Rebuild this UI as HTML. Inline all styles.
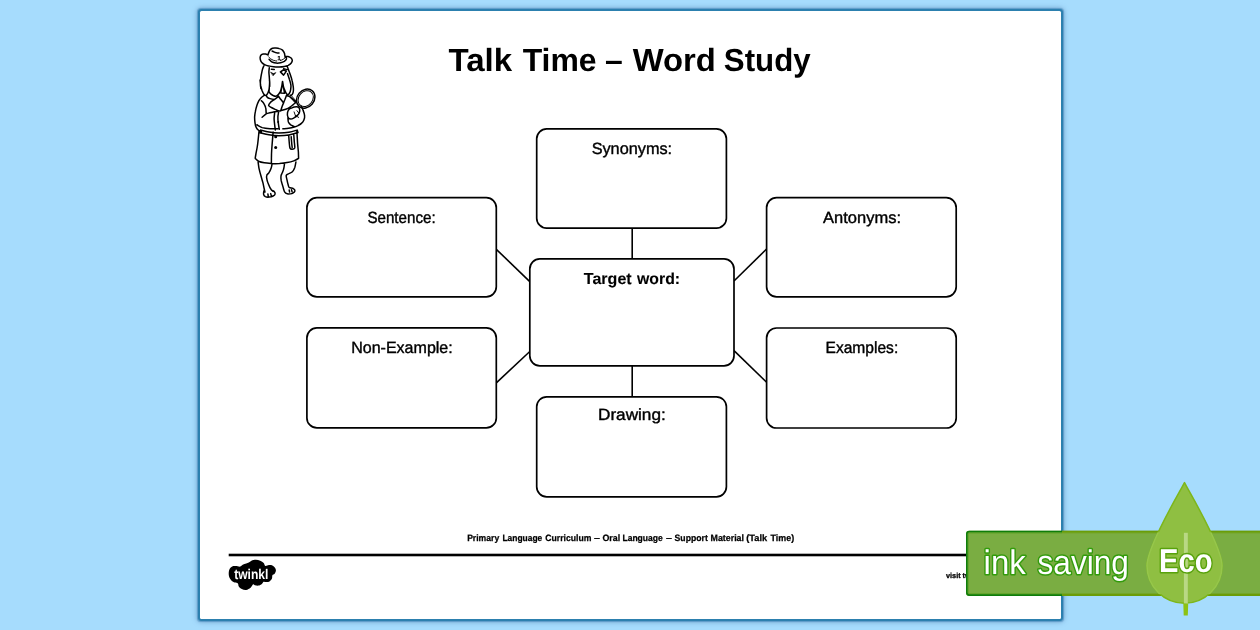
<!DOCTYPE html>
<html lang="en">
<head>
<meta charset="utf-8">
<title>Talk Time – Word Study</title>
<style>
*{box-sizing:border-box;margin:0;padding:0}
html,body{width:1260px;height:630px;overflow:hidden;background:#a6dcfd}
#stage{position:relative;width:1260px;height:630px;overflow:hidden;background:#a6dcfd}
#sheet{position:absolute;left:200px;top:11px;width:861px;height:608px;background:#fff;border-radius:1.5px;box-shadow:0 0 0 2px #2c80af,0 0 1px 2.5px rgba(60,130,180,.55),0 0 5px 3px rgba(80,125,175,.6)}
#art{position:absolute;left:0;top:0;width:1260px;height:630px;font-family:"Liberation Sans", sans-serif;will-change:transform;text-rendering:geometricPrecision}
</style>
</head>
<body>
<div id="stage">
<div id="sheet"></div>
<svg id="art" width="1260" height="630" viewBox="0 0 1260 630">
<defs>
<clipPath id="bL"><rect x="960" y="525" width="102" height="80"/></clipPath>
<clipPath id="bR"><rect x="1062" y="525" width="200" height="80"/></clipPath>
<clipPath id="inb"><rect x="960" y="532.6" width="310" height="61.4"/></clipPath>
</defs>
<g id="title"><text y="71.20" font-weight="bold" font-size="32" fill="#000"><tspan x="448.44" textLength="63.72" lengthAdjust="spacingAndGlyphs">Talk</tspan> <tspan x="522.65" textLength="73.96" lengthAdjust="spacingAndGlyphs">Time</tspan> <tspan x="605.00" textLength="17.74" lengthAdjust="spacingAndGlyphs">–</tspan> <tspan x="632.70" textLength="83.12" lengthAdjust="spacingAndGlyphs">Word</tspan> <tspan x="723.82" textLength="86.81" lengthAdjust="spacingAndGlyphs">Study</tspan></text></g>
<g id="dog" fill="none" stroke="#000" stroke-width="1.5" stroke-linecap="round" stroke-linejoin="round">
<g transform="rotate(-50 305.7 98.6)"><ellipse cx="305.7" cy="98.6" rx="10.2" ry="8.5"/><ellipse cx="305.7" cy="98.6" rx="8.6" ry="6.9" stroke-width="1"/></g>
<path d="M268.0 55.0C267.6 54.9 266.5 54.3 265.7 54.1C264.9 54.0 264.0 53.8 263.2 53.9C262.4 54.1 261.6 54.4 261.1 55.0C260.6 55.6 260.2 56.6 260.1 57.5C260.1 58.4 260.2 59.5 260.6 60.4C260.9 61.3 261.5 62.1 262.1 62.9C262.8 63.6 263.6 64.1 264.6 64.6C265.7 65.2 267.1 65.6 268.6 65.9C270.1 66.3 271.8 66.6 273.6 66.8C275.4 67.0 277.5 67.1 279.3 67.0C281.1 66.9 282.8 66.7 284.3 66.4C285.8 66.2 287.1 65.9 288.2 65.4C289.3 64.8 290.4 64.0 291.1 63.2C291.8 62.4 292.2 61.5 292.3 60.7C292.4 59.9 292.0 59.2 291.6 58.6C291.1 58.0 290.4 57.5 289.6 57.1C288.9 56.8 287.9 56.6 287.1 56.4C286.4 56.3 285.4 56.3 285.0 56.3 M267.9 55.1C268.0 54.6 268.5 53.1 268.9 52.1C269.3 51.2 269.8 50.3 270.4 49.6C271.0 49.0 271.6 48.5 272.5 48.2C273.4 47.9 274.6 47.9 275.7 48.0C276.8 48.1 278.2 48.2 279.3 48.6C280.4 48.9 281.7 49.4 282.5 50.1C283.3 50.9 283.9 51.9 284.3 52.9C284.7 53.8 284.7 55.0 284.9 55.7C285.0 56.5 285.1 57.0 285.1 57.3 M269.1 59.3C269.6 59.7 270.9 61.4 272.1 62.0C273.4 62.6 275.0 63.0 276.4 63.1C277.9 63.2 279.4 63.0 280.7 62.7C282.0 62.4 283.3 61.9 284.3 61.3C285.2 60.7 286.1 59.8 286.4 59.1C286.7 58.5 286.2 57.5 286.1 57.1 M272.1 51.1C272.5 51.2 273.5 51.8 274.3 52.1C275.1 52.4 276.4 52.7 277.1 52.9C277.9 53.0 278.7 53.0 279.0 53.0 M263.9 65.7C263.7 66.3 262.9 67.9 262.5 69.3C262.1 70.7 261.8 72.6 261.4 74.3C261.1 76.0 260.8 77.6 260.6 79.3C260.4 81.0 260.3 82.7 260.4 84.3C260.4 85.8 260.8 87.9 260.9 88.6 M260.0 80.0C260.1 81.0 260.4 83.9 260.7 85.7C261.1 87.5 261.6 89.3 262.1 90.7C262.7 92.1 263.4 93.5 263.9 94.3C264.5 95.1 264.8 95.4 265.4 95.4C265.9 95.4 266.6 95.1 267.1 94.3C267.7 93.5 268.3 92.0 268.7 90.7C269.1 89.4 269.3 87.9 269.4 86.4C269.6 85.0 269.6 83.2 269.6 82.1C269.6 81.1 269.5 80.4 269.4 80.0 M269.3 67.7C269.2 68.5 268.9 70.6 268.9 72.1C268.9 73.7 269.2 75.5 269.3 77.1C269.4 78.8 269.6 80.6 269.7 82.1C269.8 83.7 269.7 85.7 269.7 86.4 M269.3 88.6C269.3 89.0 268.9 90.5 269.1 91.4C269.4 92.3 270.0 93.2 270.7 93.9C271.5 94.6 272.6 95.4 273.6 95.7C274.5 96.1 275.6 96.3 276.4 96.1C277.3 95.8 277.9 95.1 278.6 94.3C279.2 93.5 279.9 92.5 280.4 91.4C280.8 90.4 281.1 89.0 281.4 87.9C281.7 86.7 282.0 85.4 282.1 84.3C282.3 83.2 282.4 81.9 282.5 81.4 M282.6 81.4C282.8 82.4 283.2 85.6 283.6 87.1C284.0 88.7 284.5 89.6 285.0 90.7C285.5 91.8 286.0 92.9 286.4 93.6C286.9 94.2 287.3 94.8 287.9 94.6C288.4 94.5 289.2 93.8 289.6 92.9C290.1 92.0 290.5 90.6 290.7 89.3C290.9 88.0 291.1 86.7 290.9 85.0C290.6 83.3 290.0 81.2 289.4 79.3C288.9 77.4 287.8 74.5 287.5 73.6 M282.6 82.9L280.7 93.0L284.6 93.3Z M287.1 66.1C287.4 66.7 288.0 68.5 288.6 70.0C289.1 71.5 289.8 73.2 290.4 75.0C291.0 76.8 291.7 78.8 292.1 80.7C292.6 82.6 293.0 84.8 293.2 86.4C293.4 88.1 293.6 89.4 293.4 90.7C293.3 92.0 292.8 93.5 292.3 94.3C291.8 95.1 290.7 95.2 290.4 95.4 M271.4 69.3L274.3 69.4 M283.7 68.6L287.0 69.6 M280.4 71.9L283.3 70.0L286.4 71.1L283.6 75.1Z M264.3 95.4C263.8 95.7 262.3 96.6 261.4 97.5C260.5 98.4 259.7 99.3 258.9 100.7C258.2 102.1 257.4 103.9 256.8 105.7C256.2 107.5 255.7 109.5 255.4 111.4C255.0 113.3 254.7 115.2 254.6 117.1C254.6 119.0 254.8 121.2 255.0 122.9C255.2 124.5 255.5 126.0 256.1 127.1C256.6 128.3 257.3 129.2 258.2 130.0C259.1 130.8 260.9 131.5 261.4 131.8 M266.4 95.4C266.5 95.7 266.5 96.6 267.1 97.1C267.7 97.7 268.8 98.2 270.0 98.6C271.2 99.0 273.6 99.5 274.3 99.6 M274.3 99.6C273.7 100.1 271.7 101.2 270.7 102.1C269.8 103.1 268.5 104.5 268.6 105.4C268.7 106.2 270.2 106.8 271.4 107.5C272.6 108.2 274.4 109.0 275.7 109.6C277.0 110.2 278.5 110.9 279.3 111.1C280.1 111.2 280.5 110.8 280.7 110.7 M280.7 110.7C281.0 110.0 281.7 107.7 282.1 106.4C282.6 105.1 283.1 104.0 283.6 102.9C284.0 101.7 284.5 100.5 285.0 99.3C285.5 98.0 286.2 96.0 286.4 95.4 M278.6 96.4C278.9 96.9 279.9 98.2 280.7 99.3C281.5 100.4 283.1 102.3 283.6 102.9 M274.3 99.6L278.6 96.3 M280.7 110.7C281.5 110.5 284.2 109.9 285.7 109.3C287.3 108.7 288.7 108.0 290.0 107.1C291.3 106.3 292.6 105.1 293.6 104.3C294.5 103.5 295.4 102.8 295.7 102.5 M286.4 95.4C286.9 95.5 288.2 95.8 289.3 96.4C290.4 97.1 291.8 98.4 292.9 99.3C293.9 100.2 295.2 101.4 295.7 101.8 M261.4 100.7C261.8 101.2 263.2 102.4 263.9 103.6C264.6 104.8 265.4 106.4 265.7 107.9C266.1 109.3 266.0 111.2 266.1 112.1C266.2 113.1 266.4 113.3 266.4 113.6 M266.4 113.6L262.1 117.3 M266.4 113.6C267.3 113.4 269.8 112.9 271.4 112.5C273.1 112.1 275.1 111.7 276.4 111.4C277.7 111.2 278.8 111.1 279.3 111.1 M274.6 113.0C274.6 113.9 274.1 116.7 274.1 118.6C274.1 120.5 274.4 122.4 274.6 124.3C274.8 126.2 275.2 129.0 275.4 130.0 M278.6 111.8C278.5 112.7 277.9 115.3 277.9 117.1C277.8 119.0 278.0 120.8 278.3 122.9C278.5 124.9 279.1 128.2 279.3 129.3 M256.9 124.8C257.8 125.2 260.0 126.9 262.2 127.6C264.4 128.2 267.4 128.5 270.0 128.7C272.6 128.9 276.5 128.7 277.8 128.7 M289.3 109.1C288.6 109.9 287.7 111.4 287.5 112.7C287.3 114.0 287.3 115.9 287.9 117.0C288.4 118.1 289.6 119.0 290.7 119.1C291.8 119.3 293.2 118.3 294.3 117.7C295.4 117.1 296.3 116.4 297.1 115.6C298.0 114.7 298.9 113.8 299.3 112.7C299.7 111.6 299.9 110.1 299.6 109.1C299.4 108.2 298.8 107.4 297.9 107.0C297.0 106.6 295.4 106.8 294.3 107.0C293.2 107.2 292.3 107.7 291.4 108.1C290.6 108.4 289.9 108.4 289.3 109.1Z M301.4 106.3C301.7 107.0 302.7 109.0 303.2 110.6C303.8 112.1 304.5 114.0 304.6 115.6C304.8 117.1 304.5 118.5 303.9 119.9C303.4 121.2 302.4 122.5 301.4 123.4C300.4 124.4 299.0 125.0 297.9 125.6C296.7 126.2 295.8 126.5 294.3 127.0C292.7 127.5 290.5 128.0 288.6 128.3C286.7 128.6 283.8 128.7 282.9 128.8 M287.9 117.7C288.0 118.4 288.0 120.8 288.4 122.0C288.9 123.2 289.7 124.1 290.7 124.9C291.7 125.6 293.7 126.3 294.3 126.6 M260.6 130.0C261.9 130.3 265.8 131.5 268.9 132.0C271.9 132.5 275.6 132.9 278.9 132.9C282.2 132.9 285.8 132.7 288.9 132.2C291.9 131.7 295.8 130.4 297.2 130.0 M259.8 132.7C261.3 133.0 265.7 134.2 268.9 134.7C272.1 135.2 275.6 135.6 278.9 135.7C282.2 135.7 285.7 135.5 288.9 135.0C292.1 134.5 296.5 133.0 298.0 132.6 M260.6 130.0L259.8 132.7 M297.2 130.0L298.0 132.6 M288.7 135.3C288.8 136.4 289.0 139.9 289.2 142.0C289.4 144.1 289.5 146.9 290.0 148.1C290.5 149.3 291.4 149.4 292.2 149.3C293.0 149.3 294.3 149.2 294.7 148.0C295.0 146.8 294.5 144.1 294.3 142.0C294.2 139.9 293.9 136.3 293.8 135.1 M291.2 136.7C291.3 137.6 291.4 140.2 291.6 142.0C291.7 143.8 292.1 146.6 292.2 147.6 M259.0 131.2C258.8 133.4 258.1 140.7 257.6 144.5C257.1 148.3 256.3 151.7 255.9 154.0C255.5 156.3 255.3 157.6 255.2 158.3 M255.2 158.3C255.8 158.8 257.1 160.4 258.6 161.2C260.1 161.9 262.1 162.4 264.3 162.8C266.5 163.2 269.4 163.4 271.9 163.6C274.4 163.7 277.0 163.7 279.5 163.6C282.1 163.4 284.8 163.1 287.1 162.6C289.5 162.2 291.9 161.6 293.8 160.9C295.7 160.2 297.8 158.8 298.6 158.3 M298.6 158.3C298.5 157.3 298.5 154.6 298.4 152.1C298.2 149.7 297.9 147.1 297.6 143.6C297.4 140.1 297.0 133.3 296.9 131.2 M273.1 132.1C273.0 134.2 272.4 140.9 272.1 144.5C271.8 148.2 271.6 150.9 271.5 154.0C271.4 157.2 271.4 162.0 271.4 163.6 M258.1 162.1C258.3 163.2 258.6 166.0 259.0 168.3C259.5 170.6 260.3 173.6 261.0 176.0C261.6 178.3 262.3 180.4 262.9 182.6C263.4 184.8 263.9 187.7 264.3 189.3C264.7 190.9 264.9 191.7 265.0 192.1 M272.1 163.8C271.9 164.5 271.7 166.9 271.1 168.3C270.6 169.8 269.8 171.4 269.0 172.6C268.3 173.8 267.0 174.3 266.7 175.5C266.3 176.7 266.6 178.3 267.0 179.8C267.3 181.3 267.9 182.9 268.6 184.5C269.2 186.1 270.2 188.2 271.0 189.3C271.7 190.4 272.5 190.9 272.9 191.2 M284.5 163.6C284.4 164.4 284.2 166.8 283.8 168.3C283.5 169.8 282.9 171.3 282.4 172.6C281.9 173.9 281.1 174.6 281.0 176.0C280.8 177.3 280.9 179.0 281.2 180.7C281.6 182.5 282.3 184.7 282.9 186.4C283.4 188.2 283.8 190.1 284.3 191.2C284.8 192.3 285.5 192.8 285.7 193.1 M295.9 162.1C295.7 163.0 295.3 165.8 294.8 167.4C294.2 169.0 293.5 170.6 292.4 171.7C291.3 172.8 289.1 173.4 288.1 174.0C287.1 174.7 286.4 174.5 286.2 175.5C286.0 176.4 286.6 178.3 287.0 179.8C287.3 181.3 287.7 183.3 288.1 184.5C288.5 185.8 288.4 186.7 289.2 187.4C290.0 188.0 291.9 187.9 292.9 188.3C293.8 188.8 294.5 189.4 294.8 190.0C295.0 190.7 294.8 191.6 294.3 192.1C293.8 192.7 292.9 193.3 291.9 193.6C290.9 193.9 289.1 193.9 288.1 193.9C287.1 193.8 286.1 193.2 285.7 193.1 M289.2 190.0L289.6 192.1 M291.5 189.7L292.1 191.8 M264.0 190.7C263.9 191.3 263.3 193.3 263.6 194.3C263.8 195.3 264.5 196.2 265.4 196.7C266.4 197.2 268.0 197.3 269.3 197.1C270.6 197.0 272.2 196.5 273.1 196.0C274.1 195.5 275.0 194.8 275.1 194.0C275.3 193.2 274.6 192.0 274.0 191.4C273.4 190.8 272.1 190.5 271.7 190.3 M267.9 194.0L268.3 196.6 M270.7 193.6L271.4 196.1"/>
<path stroke-width=".95" d="M268.7 56.8C269.0 57.1 269.5 58.0 270.4 58.6C271.2 59.2 272.5 60.0 273.6 60.4C274.6 60.8 276.2 60.9 276.8 61.0 M280.4 60.6C280.8 60.4 282.5 59.7 283.2 59.3C284.0 58.8 284.6 58.1 284.9 57.9 M289.1 96.0L295.3 102.9 M290.7 95.0L296.7 101.7 M294.1 111.9L295.4 115.6 M296.9 110.6L298.7 112.9 M295.4 115.6L298.7 117.4"/>
<path fill="#000" stroke-width=".6" d="M270.9 72.3L273.3 73.6L275.9 72.6L273.3 75.6Z"/>
<circle cx="275.7" cy="136.7" r="1.5" fill="#000" stroke="none"/>
<circle cx="275.7" cy="147.4" r="1.5" fill="#000" stroke="none"/>
<circle cx="278.2" cy="122.1" r="1" fill="#000" stroke="none"/>
<text x="277.4" y="59.7" font-size="5.8" font-weight="bold" fill="#000" stroke="#000" stroke-width=".25">1</text>
</g>
<g id="links" stroke="#000" stroke-width="1.6" fill="none"><line x1="632.2" y1="228.1" x2="632.2" y2="258.9"/><line x1="632.2" y1="365.8" x2="632.2" y2="396.8"/><line x1="496.3" y1="249.3" x2="529.8" y2="281.6"/><line x1="734.0" y1="281.0" x2="766.6" y2="249.0"/><line x1="496.3" y1="382.8" x2="529.8" y2="351.5"/><line x1="734.0" y1="350.6" x2="766.6" y2="382.3"/></g>
<g id="boxes" stroke="#000" stroke-width="1.7" fill="#fff"><rect x="536.70" y="128.85" width="189.70" height="99.30" rx="10" ry="10"/><rect x="306.90" y="197.70" width="189.40" height="99.10" rx="10" ry="10"/><rect x="766.60" y="197.70" width="189.60" height="99.10" rx="10" ry="10"/><rect x="529.80" y="258.90" width="204.20" height="106.90" rx="10" ry="10"/><rect x="306.90" y="327.90" width="189.40" height="100.00" rx="10" ry="10"/><rect x="766.60" y="328.00" width="189.60" height="100.00" rx="10" ry="10"/><rect x="536.70" y="396.80" width="189.70" height="100.00" rx="10" ry="10"/></g>
<g id="labels" stroke="#000" stroke-width=".4" stroke-linejoin="round"><text y="153.50" font-weight="normal" font-size="16.2" fill="#000"><tspan x="591.65" textLength="80.44" lengthAdjust="spacingAndGlyphs">Synonyms:</tspan></text>
<text y="222.80" font-weight="normal" font-size="16.2" fill="#000"><tspan x="367.40" textLength="68.22" lengthAdjust="spacingAndGlyphs">Sentence:</tspan></text>
<text y="222.90" font-weight="normal" font-size="16.2" fill="#000"><tspan x="823.10" textLength="77.91" lengthAdjust="spacingAndGlyphs">Antonyms:</tspan></text>
<text y="283.60" font-weight="bold" font-size="15.9" fill="#000" stroke-width=".1"><tspan x="583.85" textLength="47.79" lengthAdjust="spacingAndGlyphs">Target</tspan> <tspan x="637.00" textLength="43.09" lengthAdjust="spacingAndGlyphs">word:</tspan></text>
<text y="353.10" font-weight="normal" font-size="16.2" fill="#000"><tspan x="351.16" textLength="101.60" lengthAdjust="spacingAndGlyphs">Non-Example:</tspan></text>
<text y="353.10" font-weight="normal" font-size="16.2" fill="#000"><tspan x="825.50" textLength="72.72" lengthAdjust="spacingAndGlyphs">Examples:</tspan></text>
<text y="419.90" font-weight="normal" font-size="16.2" fill="#000"><tspan x="597.97" textLength="67.79" lengthAdjust="spacingAndGlyphs">Drawing:</tspan></text></g>
<g id="footer"><text y="540.90" font-weight="bold" font-size="9.2" fill="#000" stroke="#000" stroke-width=".25"><tspan x="467.13" textLength="32.09" lengthAdjust="spacingAndGlyphs">Primary</tspan> <tspan x="502.44" textLength="39.82" lengthAdjust="spacingAndGlyphs">Language</tspan> <tspan x="545.23" textLength="46.26" lengthAdjust="spacingAndGlyphs">Curriculum</tspan> <tspan x="594.01" textLength="5.92" lengthAdjust="spacingAndGlyphs">–</tspan> <tspan x="602.42" textLength="17.70" lengthAdjust="spacingAndGlyphs">Oral</tspan> <tspan x="622.44" textLength="40.33" lengthAdjust="spacingAndGlyphs">Language</tspan> <tspan x="665.91" textLength="5.92" lengthAdjust="spacingAndGlyphs">–</tspan> <tspan x="674.56" textLength="33.24" lengthAdjust="spacingAndGlyphs">Support</tspan> <tspan x="710.52" textLength="33.49" lengthAdjust="spacingAndGlyphs">Material</tspan> <tspan x="746.20" textLength="20.92" lengthAdjust="spacingAndGlyphs">(Talk</tspan> <tspan x="770.50" textLength="23.63" lengthAdjust="spacingAndGlyphs">Time)</tspan></text><rect x="228.7" y="553.7" width="804" height="2.6" fill="#000"/><text y="577.90" font-weight="bold" font-size="7.3" fill="#000" stroke="#000" stroke-width=".3"><tspan x="946.00" textLength="14.61" lengthAdjust="spacingAndGlyphs">visit</tspan> <tspan x="962.60" textLength="28.80" lengthAdjust="spacingAndGlyphs">twinkl.ie</tspan></text></g>
<g id="logo"><path fill="#000" d="M228.7 572.9C228.8 571.6 229.0 570.1 229.6 569.0C230.2 567.9 231.2 566.9 232.2 566.4C233.2 565.9 234.4 565.9 235.7 566.0C237.0 566.0 238.9 566.8 240.1 566.6C241.3 566.4 241.7 565.1 242.7 564.7C243.7 564.2 245.2 564.0 246.2 563.6C247.2 563.2 247.9 562.9 248.8 562.5C249.7 562.0 250.3 561.2 251.4 560.7C252.6 560.3 254.4 559.8 255.8 559.8C257.3 559.8 258.9 560.2 260.2 560.7C261.5 561.2 262.8 562.0 263.7 562.9C264.5 563.8 264.5 565.6 265.4 566.0C266.3 566.3 267.7 565.2 268.9 565.1C270.1 565.0 271.4 565.1 272.4 565.5C273.4 566.0 274.4 566.8 275.0 567.7C275.6 568.6 276.0 569.7 275.9 570.8C275.8 571.8 275.2 573.1 274.6 573.8C274.0 574.6 272.8 574.5 272.4 575.3C272.0 576.1 272.4 577.6 272.0 578.6C271.5 579.6 270.7 580.7 269.8 581.2C268.8 581.8 267.3 582.0 266.3 582.1C265.3 582.2 264.4 581.4 263.7 581.7C262.9 582.0 262.8 583.2 261.9 583.9C261.0 584.5 259.6 585.4 258.4 585.6C257.3 585.8 255.8 585.4 254.9 585.2C254.1 585.0 253.9 583.9 253.2 584.3C252.5 584.7 251.7 586.8 250.6 587.8C249.4 588.7 247.7 589.8 246.2 590.0C244.7 590.2 243.1 589.7 241.8 589.1C240.6 588.5 239.4 587.4 238.8 586.5C238.1 585.5 238.6 584.1 237.9 583.4C237.2 582.8 235.9 583.1 234.8 582.6C233.8 582.0 232.3 581.3 231.4 580.4C230.4 579.4 229.6 578.1 229.2 576.9C228.7 575.6 228.7 574.3 228.7 572.9Z"/><text y="579.10" font-weight="bold" font-size="14" fill="#fff"><tspan x="234.18" textLength="34.21" lengthAdjust="spacingAndGlyphs">twinkl</tspan></text></g>
<g id="eco"><rect x="966" y="530.7" width="300" height="65.2" rx="3" fill="#7aad42"/><g fill="none" clip-path="url(#bR)"><path d="M1060 532.9H1262M1060 593.7H1262" stroke="#74a62a" stroke-width="1.2"/><path d="M1060 531.65H1262M1060 594.95H1262" stroke="#6b9d08" stroke-width="1.9"/></g><g fill="none" clip-path="url(#bL)"><rect x="968.1" y="532.8" width="300" height="61" rx="1.5" stroke="#5fa326" stroke-width="1.2"/><rect x="966.8" y="531.5" width="300" height="63.6" rx="2.6" stroke="#0f7d0a" stroke-width="1.6"/></g><path d="M1184.5 482.6 C1189.5 492.6 1222.0 545.8 1222.0 565.8 C1222.0 586.5 1205.2 603.3 1184.5 603.3 C1163.8 603.3 1147.0 586.5 1147.0 565.8 C1147.0 545.8 1179.5 492.6 1184.5 482.6Z" fill="#8fbf42" stroke="#7db61a" stroke-width="1.5" stroke-linejoin="round"/><path d="M1184.5 482.6 C1189.5 492.6 1222.0 545.8 1222.0 565.8 C1222.0 586.5 1205.2 603.3 1184.5 603.3 C1163.8 603.3 1147.0 586.5 1147.0 565.8 C1147.0 545.8 1179.5 492.6 1184.5 482.6Z" fill="#8fbf42" stroke="#96c64c" stroke-width="1.5" stroke-linejoin="round" clip-path="url(#inb)"/><path d="M1183.3 603.5h4.9l-.4 12.1h-4.1z" fill="#8cc214"/><rect x="1183.9" y="532.8" width="3.9" height="70.6" fill="#b9d884"/><text y="573.60" font-weight="normal" font-size="34" fill="#fff" stroke="#339b0c" stroke-width="3" paint-order="stroke" stroke-linejoin="round"><tspan x="983.62" textLength="42.15" lengthAdjust="spacingAndGlyphs">ink</tspan> <tspan x="1037.57" textLength="91.25" lengthAdjust="spacingAndGlyphs">saving</tspan></text><text y="572.20" font-weight="bold" font-size="33" fill="#fff" stroke="#58a20c" stroke-width="3" paint-order="stroke" stroke-linejoin="round"><tspan x="1159.01" textLength="53.52" lengthAdjust="spacingAndGlyphs">Eco</tspan></text></g>
</svg>
</div>
</body>
</html>
